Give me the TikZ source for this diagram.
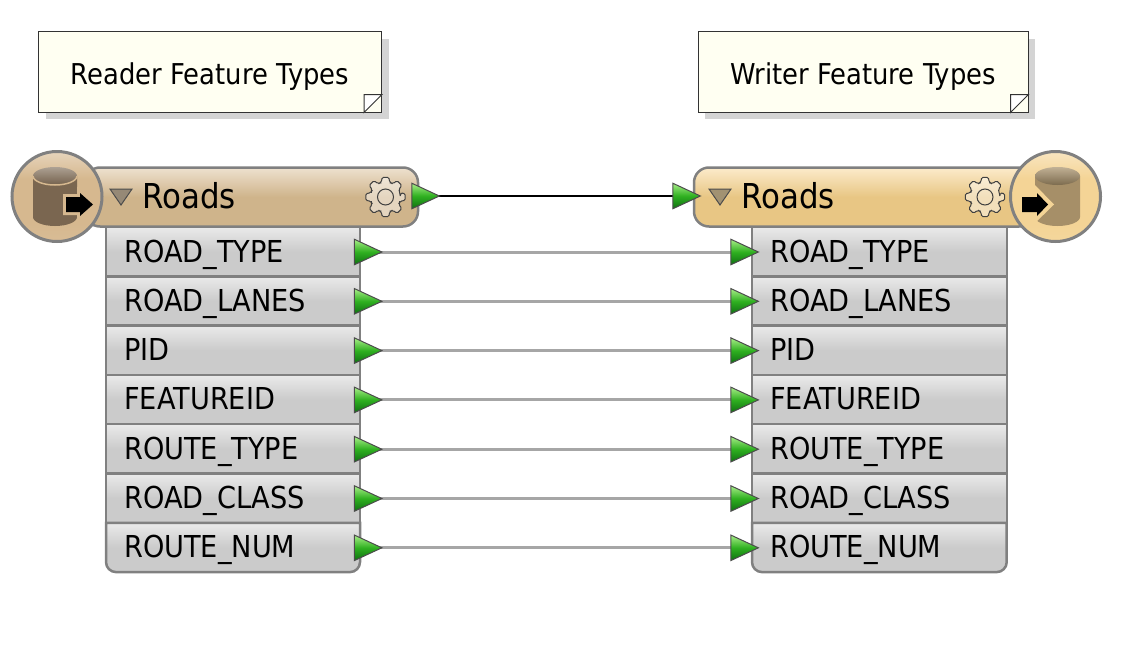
\documentclass[tikz,border=0pt]{standalone}
\usepackage{fontspec}
\setmainfont{DejaVu Sans}[FakeStretch=0.9]
\usetikzlibrary{shapes.geometric,shadows,backgrounds}
\definecolor{FrameGray}{HTML}{808080}
\definecolor{NoteCream}{HTML}{FFFFF2}
\definecolor{RowTop}{HTML}{EAEAEA}
\definecolor{RowBottom}{HTML}{CBCBCB}
\definecolor{ReaderTop}{HTML}{EEE1CF}
\definecolor{ReaderBottom}{HTML}{CFB48B}
\definecolor{WriterTop}{HTML}{FCEBCB}
\definecolor{WriterBottom}{HTML}{E8C684}
\definecolor{ReaderBall}{HTML}{D6B88F}
\definecolor{WriterBall}{HTML}{F4D496}
\definecolor{ReaderCan}{HTML}{7A6650}
\definecolor{WriterCan}{HTML}{A68F68}
\definecolor{PortTop}{HTML}{A8EE88}
\definecolor{PortMid}{HTML}{2FB020}
\definecolor{PortBottom}{HTML}{0F7012}
\pgfdeclareverticalshading{rowshade}{100bp}{color(0bp)=(RowBottom); color(50bp)=(RowBottom); color(75bp)=(RowTop); color(100bp)=(RowTop)}
\pgfdeclareverticalshading{readershade}{100bp}{color(0bp)=(ReaderBottom); color(50bp)=(ReaderBottom); color(75bp)=(ReaderTop); color(100bp)=(ReaderTop)}
\pgfdeclareverticalshading{writershade}{100bp}{color(0bp)=(WriterBottom); color(50bp)=(WriterBottom); color(75bp)=(WriterTop); color(100bp)=(WriterTop)}
\pgfdeclareverticalshading{readerball}{100bp}{color(0bp)=(ReaderBall!80!white); color(35bp)=(ReaderBall); color(60bp)=(ReaderBall); color(75bp)=(ReaderBall!60!white); color(100bp)=(ReaderBall!60!white)}
\pgfdeclareverticalshading{writerball}{100bp}{color(0bp)=(WriterBall!80!white); color(35bp)=(WriterBall); color(60bp)=(WriterBall); color(75bp)=(WriterBall!60!white); color(100bp)=(WriterBall!60!white)}
\pgfdeclareverticalshading{portshade}{100bp}{color(0bp)=(PortBottom); color(25bp)=(PortBottom); color(50bp)=(PortMid); color(75bp)=(PortTop); color(100bp)=(PortTop)}
\tikzset{
	note/.style={draw=black!80, line width=1pt, fill=NoteCream, minimum width=343pt, minimum height=80.5pt, inner sep=0pt,
		font=\fontsize{28.7}{32}\selectfont, drop shadow={shadow xshift=7pt, shadow yshift=-7pt, fill=black!17, opacity=1}},
	fold/.style={draw=black!80, line width=1pt, fill=white},
	rowbox/.style={draw=FrameGray, line width=2.5pt, shading=rowshade},
	rowlabel/.style={anchor=base west, inner sep=0pt, font=\fontsize{30.2}{34}\selectfont},
	header/.style={draw=FrameGray, line width=2.5pt, rounded corners=15pt, minimum height=59pt, inner sep=0pt},
	headerlabel/.style={anchor=base west, inner sep=0pt, font=\fontsize{34.3}{40}\selectfont},
	ball/.style={circle, draw=FrameGray, line width=3pt, minimum size=90pt, inner sep=0pt},
	port/.style={isosceles triangle, isosceles triangle stretches, shape border rotate=0, minimum height=27.5pt, minimum width=25.5pt,
		inner sep=0pt, draw=black!70, line width=1pt, shading=portshade},
	attrline/.style={draw=black!35, line width=3pt},
	flowline/.style={draw=black, line width=2pt},
	gearline/.style={draw=black!75, line width=1pt, rounded corners=1.5pt},
	gearicon/.pic={
		\draw[gearline, fill=white, fill opacity=0.45] (0:15)
			\foreach \a in {0,45,...,315}{ -- (\a-15:15.5) -- (\a-10:20) -- (\a+10:20) -- (\a+15:15.5) -- (\a+22.5:15) } -- cycle;
		\draw[draw=black!75, line width=1pt] (0,0) circle (8);
	}
}
\begin{document}
\begin{tikzpicture}[x=1pt, y=-1pt]
	\useasboundingbox (0,0) rectangle (1133,656);
	% notes
	\node[note] (readernote) at (210,71.75) {\raisebox{-13pt}[0pt][0pt]{Reader Feature Types}};
	\node[note, minimum width=330pt] (writernote) at (863,71.75) {\raisebox{-13pt}[0pt][0pt]{Writer Feature Types}};
	\foreach \n in {readernote, writernote}{
		\draw[fold] (\n.south east) ++(-18,0) -- ++(0,-18) -- ++(18,0) -- cycle;
	}
	% attribute rows
	\foreach \name [count=\i] in {ROAD\_TYPE, ROAD\_LANES, PID, FEATUREID, ROUTE\_TYPE, ROAD\_CLASS, ROUTE\_NUM}{
		\pgfmathsetmacro{\ytop}{227+(\i-1)*49.3}
		\pgfmathsetmacro{\ybot}{\ytop+49.3}
		\pgfmathsetmacro{\yarc}{\ybot-10}
		\pgfmathsetmacro{\ybase}{\ytop+35}
		\pgfmathsetmacro{\ymid}{\ytop+25}
		\ifnum\i<7
			\path[rowbox] (106,\ytop) rectangle (360,\ybot);
			\path[rowbox] (752,\ytop) rectangle (1007,\ybot);
		\else
			\path[rowbox] (106,\ytop) -- (360,\ytop) -- (360,\yarc) arc[start angle=0, end angle=90, radius=10] -- (116,\ybot) arc[start angle=90, end angle=180, radius=10] -- cycle;
			\path[rowbox] (752,\ytop) -- (1006.7,\ytop) -- (1006.7,\yarc) arc[start angle=0, end angle=90, radius=10] -- (762,\ybot) arc[start angle=90, end angle=180, radius=10] -- cycle;
		\fi
		\node[rowlabel] (readerrow\i) at (124,\ybase) {\name};
		\node[rowlabel] (writerrow\i) at (770,\ybase) {\name};
		\node[port] (outport\i) at (362.5,\ymid) {};
		\node[port] (inport\i) at (739,\ymid) {};
	}
	\begin{pgfonlayer}{background}
		\foreach \i in {1,...,7}{
			\draw[attrline] (outport\i.center) -- (inport\i.center);
		}
	\end{pgfonlayer}
	% headers
	\node[header, shading=readershade, minimum width=333pt] (readerhead) at (251.5,197) {};
	\node[header, shading=writershade, minimum width=340pt] (writerhead) at (864,197) {};
	\node[headerlabel] (readername) at (142,208) {Roads};
	\node[headerlabel] (writername) at (741,208) {Roads};
	\draw[draw=black!70, line width=1pt, fill=ReaderBottom!60!black!80] (110,189) -- (132,189) -- (121,205) -- cycle;
	\draw[draw=black!70, line width=1pt, fill=WriterBottom!60!black!80] (709,189) -- (731,189) -- (720,205) -- cycle;
	\pic at (385.5,197) {gearicon};
	\pic at (985,197) {gearicon};
	\node[port] (readerport) at (420,196) {};
	\node[port] (writerport) at (681,196) {};
	\begin{pgfonlayer}{background}
		\draw[flowline] (readerport.center) -- (writerport.center);
	\end{pgfonlayer}
	% reader ball
	\node[ball, shading=readerball] (readerball) at (57,196.5) {};
	\fill[ReaderCan] (33,176) -- (33,217) arc[start angle=180, end angle=0, x radius=22, y radius=9] -- (77,176) -- cycle;
	\shade[top color=ReaderCan!62!white, bottom color=ReaderCan!95!black] (55,176) ellipse (22 and 9);
	\draw[draw=ReaderBall, line width=1.5pt] (33,176) arc[start angle=180, end angle=0, x radius=22, y radius=9];
	\draw[draw=ReaderBall, line width=6pt] (66,197) -- (80,197) -- (80,193) -- (93,204.5) -- (80,216) -- (80,212) -- (66,212) -- cycle;
	\fill[black] (66,197) -- (80,197) -- (80,193) -- (93,204.5) -- (80,216) -- (80,212) -- (66,212) -- cycle;
	% writer ball
	\node[ball, shading=writerball] (writerball) at (1055.5,196.5) {};
	\fill[WriterCan] (1035,176) -- (1035,217) arc[start angle=180, end angle=0, x radius=22.5, y radius=9] -- (1080,176) -- cycle;
	\shade[top color=WriterCan!70!white, bottom color=WriterCan!75!black] (1057.5,176) ellipse (22.5 and 9);
	\fill[WriterBall] (1034,184) -- (1054,204.5) -- (1034,224) -- cycle;
	\fill[black] (1022,197) -- (1037,197) -- (1037,193) -- (1048,204.5) -- (1037,216) -- (1037,212) -- (1022,212) -- cycle;
\end{tikzpicture}
\end{document}
